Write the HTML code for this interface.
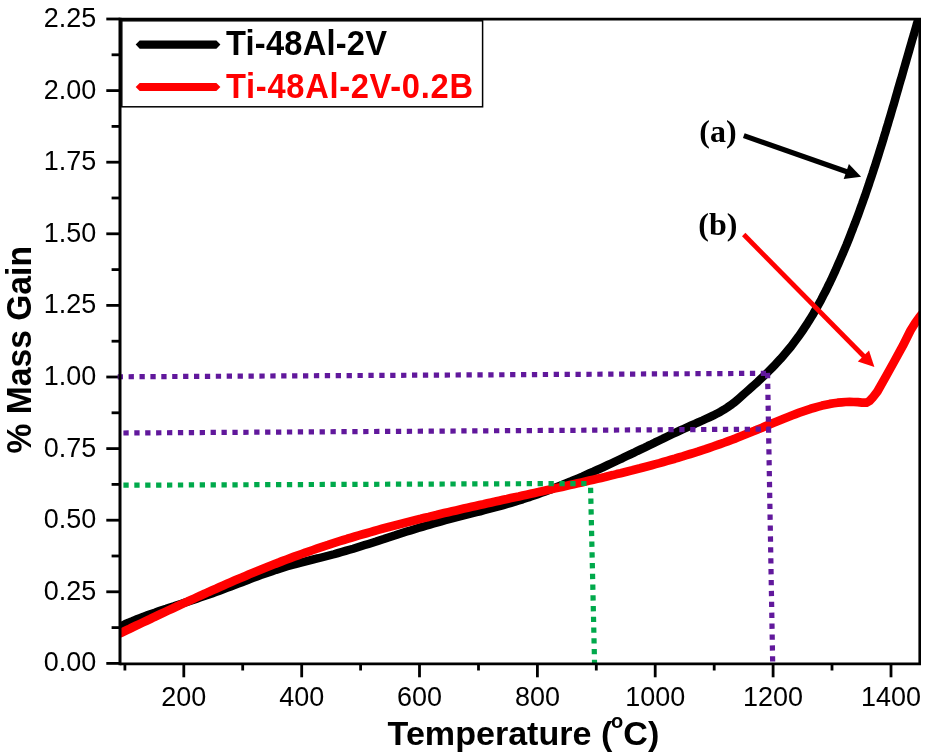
<!DOCTYPE html>
<html lang="en"><head><meta charset="utf-8"><title>Mass gain vs temperature</title>
<style>
html,body{margin:0;padding:0;background:#fff;}
body{width:925px;height:754px;overflow:hidden;}
svg{display:block;}
.tk{font-family:"Liberation Sans",Arial,sans-serif;font-size:28.4px;fill:#000;}
.lb{font-family:"Liberation Sans",Arial,sans-serif;font-weight:bold;font-size:32.7px;fill:#000;}
.an{font-family:"Liberation Serif","Times New Roman",serif;font-weight:bold;font-size:32px;fill:#000;}
</style></head><body>
<svg width="925" height="754" viewBox="0 0 925 754">
<rect width="925" height="754" fill="#fff"/>
<defs><clipPath id="plot"><rect x="120.0" y="19.1" width="799.7" height="644.6999999999999"/></clipPath></defs>
<g stroke="#000" stroke-width="2.8" fill="none">
<line x1="106.3" y1="663.4" x2="120.0" y2="663.4"/>
<line x1="106.3" y1="591.8" x2="120.0" y2="591.8"/>
<line x1="106.3" y1="520.2" x2="120.0" y2="520.2"/>
<line x1="106.3" y1="448.6" x2="120.0" y2="448.6"/>
<line x1="106.3" y1="377.0" x2="120.0" y2="377.0"/>
<line x1="106.3" y1="305.4" x2="120.0" y2="305.4"/>
<line x1="106.3" y1="233.8" x2="120.0" y2="233.8"/>
<line x1="106.3" y1="162.2" x2="120.0" y2="162.2"/>
<line x1="106.3" y1="90.6" x2="120.0" y2="90.6"/>
<line x1="106.3" y1="19.0" x2="120.0" y2="19.0"/>
<line x1="111.6" y1="627.6" x2="120.0" y2="627.6"/>
<line x1="111.6" y1="556.0" x2="120.0" y2="556.0"/>
<line x1="111.6" y1="484.4" x2="120.0" y2="484.4"/>
<line x1="111.6" y1="412.8" x2="120.0" y2="412.8"/>
<line x1="111.6" y1="341.2" x2="120.0" y2="341.2"/>
<line x1="111.6" y1="269.6" x2="120.0" y2="269.6"/>
<line x1="111.6" y1="198.0" x2="120.0" y2="198.0"/>
<line x1="111.6" y1="126.4" x2="120.0" y2="126.4"/>
<line x1="111.6" y1="54.8" x2="120.0" y2="54.8"/>
<line x1="183.8" y1="663.8" x2="183.8" y2="677.3"/>
<line x1="301.7" y1="663.8" x2="301.7" y2="677.3"/>
<line x1="419.5" y1="663.8" x2="419.5" y2="677.3"/>
<line x1="537.4" y1="663.8" x2="537.4" y2="677.3"/>
<line x1="655.2" y1="663.8" x2="655.2" y2="677.3"/>
<line x1="773.1" y1="663.8" x2="773.1" y2="677.3"/>
<line x1="891.0" y1="663.8" x2="891.0" y2="677.3"/>
<line x1="124.9" y1="663.8" x2="124.9" y2="670.5"/>
<line x1="242.7" y1="663.8" x2="242.7" y2="670.5"/>
<line x1="360.6" y1="663.8" x2="360.6" y2="670.5"/>
<line x1="478.5" y1="663.8" x2="478.5" y2="670.5"/>
<line x1="596.3" y1="663.8" x2="596.3" y2="670.5"/>
<line x1="714.2" y1="663.8" x2="714.2" y2="670.5"/>
<line x1="832.0" y1="663.8" x2="832.0" y2="670.5"/>
</g>
<g clip-path="url(#plot)">
<polyline points="114.1,629.4 117.7,627.6 121.3,625.9 125.0,624.2 128.7,622.6 132.4,621.1 136.1,619.5 139.8,618.1 143.6,616.6 147.3,615.3 151.1,613.9 154.9,612.6 158.7,611.2 162.4,609.9 166.2,608.7 170.0,607.4 173.9,606.2 177.7,604.9 181.5,603.7 185.3,602.4 189.1,601.2 192.9,600.0 196.7,598.7 200.5,597.4 204.3,596.1 208.1,594.8 211.9,593.5 215.6,592.1 219.4,590.7 223.2,589.3 226.9,587.9 230.7,586.5 234.4,585.1 238.2,583.6 241.9,582.2 245.7,580.8 249.4,579.3 253.2,577.9 256.9,576.5 260.7,575.1 264.5,573.8 268.3,572.5 272.1,571.2 275.9,569.9 279.7,568.7 283.5,567.5 287.3,566.3 291.2,565.2 295.1,564.2 298.9,563.1 302.8,562.1 306.7,561.1 310.6,560.1 314.5,559.1 318.4,558.2 322.3,557.2 326.1,556.2 330.0,555.2 333.9,554.2 337.8,553.1 341.6,552.0 345.5,550.9 349.4,549.8 353.2,548.7 357.0,547.5 360.9,546.3 364.7,545.1 368.5,543.9 372.4,542.7 376.2,541.5 380.0,540.2 383.8,539.0 387.6,537.7 391.5,536.5 395.3,535.3 399.1,534.0 402.9,532.8 406.7,531.6 410.6,530.4 414.4,529.2 418.2,528.0 422.1,526.9 425.9,525.7 429.8,524.6 433.6,523.5 437.5,522.4 441.3,521.4 445.2,520.3 449.1,519.3 453.0,518.3 456.8,517.3 460.7,516.3 464.6,515.3 468.5,514.3 472.4,513.3 476.3,512.3 480.1,511.4 484.0,510.3 487.9,509.3 491.8,508.3 495.6,507.3 499.5,506.2 503.3,505.1 507.2,504.0 511.0,502.9 514.9,501.8 518.7,500.6 522.5,499.4 526.3,498.1 530.1,496.9 533.9,495.6 537.7,494.2 541.4,492.9 545.2,491.5 549.0,490.1 552.7,488.7 556.4,487.2 560.2,485.7 563.9,484.2 567.6,482.7 571.3,481.2 575.0,479.6 578.7,478.1 582.4,476.5 586.1,474.8 589.7,473.2 593.4,471.6 597.1,469.9 600.7,468.3 604.4,466.6 608.0,464.9 611.7,463.2 615.3,461.5 619.0,459.8 622.6,458.1 626.2,456.3 629.8,454.6 633.5,452.9 637.1,451.1 640.7,449.4 644.3,447.7 647.9,445.9 651.5,444.2 655.1,442.4 658.7,440.7 662.3,439.0 665.9,437.2 669.5,435.5 673.1,433.8 676.7,432.1 680.3,430.4 684.0,428.7 687.6,427.1 691.3,425.4 695.0,423.8 698.7,422.1 702.4,420.5 706.1,418.8 709.8,417.1 713.4,415.4 717.0,413.6 720.5,411.7 723.9,409.7 727.3,407.5 730.5,405.3 733.7,402.9 736.7,400.4 739.7,397.8 742.7,395.2 745.7,392.5 748.7,389.9 751.7,387.2 754.7,384.5 757.7,381.8 760.6,379.0 763.6,376.2 766.5,373.4 769.3,370.6 772.2,367.7 775.0,364.8 777.7,361.9 780.5,358.9 783.1,355.9 785.8,352.8 788.3,349.8 790.9,346.7 793.3,343.5 795.7,340.3 798.1,337.1 800.4,333.8 802.7,330.5 804.9,327.2 807.1,323.9 809.2,320.5 811.3,317.1 813.4,313.7 815.4,310.2 817.3,306.7 819.3,303.2 821.2,299.7 823.0,296.1 824.9,292.6 826.7,289.0 828.4,285.4 830.2,281.8 831.9,278.2 833.6,274.5 835.3,270.9 836.9,267.2 838.5,263.5 840.1,259.9 841.7,256.2 843.3,252.5 844.8,248.8 846.4,245.1 847.9,241.4 849.4,237.6 850.8,233.9 852.3,230.2 853.7,226.4 855.2,222.7 856.6,218.9 858.0,215.2 859.4,211.4 860.7,207.7 862.1,203.9 863.4,200.1 864.8,196.3 866.1,192.5 867.4,188.7 868.7,184.9 869.9,181.1 871.2,177.3 872.5,173.5 873.7,169.7 875.0,165.9 876.2,162.1 877.4,158.2 878.6,154.4 879.8,150.6 881.0,146.8 882.2,142.9 883.4,139.1 884.5,135.2 885.7,131.4 886.8,127.5 888.0,123.7 889.1,119.9 890.3,116.0 891.4,112.2 892.5,108.3 893.7,104.4 894.8,100.6 895.9,96.7 897.0,92.9 898.1,89.0 899.2,85.2 900.3,81.3 901.5,77.4 902.6,73.6 903.7,69.7 904.8,65.9 905.9,62.0 907.0,58.2 908.1,54.3 909.2,50.5 910.3,46.6 911.4,42.8 912.5,38.9 913.7,35.1 914.8,31.2 915.9,27.4 917.0,23.5 918.2,19.7 919.3,15.9 920.4,12.0" fill="none" stroke="#000" stroke-width="8.4" stroke-linejoin="round" stroke-linecap="round"/>
<polyline points="114.1,636.1 117.7,634.4 121.3,632.7 124.9,631.0 128.6,629.3 132.2,627.5 135.8,625.8 139.4,624.1 143.0,622.4 146.6,620.7 150.3,619.0 153.9,617.2 157.5,615.5 161.2,613.8 164.8,612.1 168.4,610.4 172.1,608.7 175.7,607.0 179.4,605.3 183.0,603.6 186.7,601.9 190.3,600.3 194.0,598.6 197.6,596.9 201.3,595.2 205.0,593.6 208.6,591.9 212.3,590.3 216.0,588.7 219.7,587.0 223.3,585.4 227.0,583.8 230.7,582.2 234.4,580.6 238.1,579.0 241.8,577.5 245.5,575.9 249.2,574.3 253.0,572.8 256.7,571.3 260.4,569.8 264.1,568.3 267.8,566.8 271.6,565.3 275.3,563.8 279.1,562.4 282.8,560.9 286.6,559.5 290.3,558.1 294.1,556.7 297.9,555.3 301.6,554.0 305.4,552.6 309.2,551.3 313.0,550.0 316.8,548.7 320.6,547.4 324.4,546.1 328.2,544.9 332.0,543.6 335.8,542.4 339.7,541.2 343.5,540.0 347.3,538.8 351.1,537.7 355.0,536.5 358.8,535.4 362.7,534.3 366.5,533.2 370.4,532.1 374.2,531.0 378.1,529.9 382.0,528.8 385.8,527.8 389.7,526.7 393.6,525.7 397.5,524.7 401.4,523.7 405.2,522.7 409.1,521.7 413.0,520.7 416.9,519.7 420.8,518.8 424.7,517.8 428.6,516.9 432.5,515.9 436.4,515.0 440.3,514.0 444.2,513.1 448.2,512.2 452.1,511.3 456.0,510.4 459.9,509.5 463.8,508.6 467.7,507.7 471.7,506.8 475.6,505.9 479.5,505.0 483.4,504.2 487.3,503.3 491.3,502.4 495.2,501.6 499.1,500.7 503.1,499.8 507.0,499.0 510.9,498.1 514.8,497.2 518.8,496.4 522.7,495.5 526.6,494.7 530.6,493.8 534.5,492.9 538.4,492.1 542.3,491.2 546.3,490.3 550.2,489.5 554.1,488.6 558.0,487.7 562.0,486.9 565.9,486.0 569.8,485.1 573.7,484.2 577.6,483.3 581.6,482.4 585.5,481.5 589.4,480.6 593.3,479.7 597.2,478.8 601.1,477.9 605.0,477.0 608.9,476.0 612.8,475.1 616.7,474.1 620.6,473.2 624.5,472.2 628.4,471.2 632.3,470.3 636.2,469.3 640.1,468.3 644.0,467.2 647.9,466.2 651.7,465.2 655.6,464.1 659.5,463.1 663.3,462.0 667.2,460.9 671.0,459.8 674.9,458.7 678.7,457.5 682.6,456.4 686.4,455.2 690.2,454.0 694.1,452.8 697.9,451.6 701.7,450.3 705.5,449.1 709.3,447.8 713.1,446.5 716.9,445.2 720.7,443.8 724.5,442.5 728.3,441.1 732.0,439.7 735.8,438.3 739.5,436.8 743.3,435.3 747.0,433.8 750.8,432.3 754.5,430.8 758.2,429.2 762.0,427.7 765.7,426.1 769.4,424.6 773.1,423.0 776.9,421.5 780.6,420.0 784.3,418.5 788.1,417.0 791.8,415.5 795.5,414.1 799.3,412.7 803.1,411.4 806.8,410.1 810.6,408.8 814.4,407.7 818.3,406.6 822.1,405.6 826.0,404.7 829.8,403.9 833.8,403.3 837.7,402.7 841.6,402.3 845.6,402.0 849.6,401.9 853.7,402.0 857.8,402.2 861.9,402.6 866.5,402.6 869.5,401.0 872.5,397.8 877.4,391.5 886.1,376.2 894.5,361.0 902.9,345.7 910.5,330.5 915.0,323.3 919.5,317.0 926.0,309.0" fill="none" stroke="#ff0000" stroke-width="8.7" stroke-linejoin="round" stroke-linecap="round"/>
</g>
<g fill="none" stroke-width="5.2" stroke-dasharray="5.3 5.6">
<path d="M117.7,376.8 L770.6,373.3" stroke="#61189c"/>
<path d="M123.4,433 L771,429.1" stroke="#61189c"/>
<path d="M767.56,372.9 L772.7,665" stroke="#61189c"/>
<path d="M123.4,485.2 L587.5,483.5" stroke="#00a94b"/>
<path d="M590.6,487.8 L594.55,663" stroke="#00a94b" stroke-dasharray="5.3 5.45"/>
</g>
<g stroke="#000" fill="none">
<line x1="120.0" y1="17.700000000000003" x2="120.0" y2="665.1999999999999" stroke-width="3"/>
<line x1="120.0" y1="663.8" x2="921.0" y2="663.8" stroke-width="2.8"/>
<line x1="120.0" y1="19.1" x2="921.0" y2="19.1" stroke-width="2.8"/>
<line x1="919.7" y1="19.1" x2="919.7" y2="663.8" stroke-width="2.6"/>
</g>
<rect x="121.8" y="20.8" width="360.8" height="86" fill="#fff" stroke="#000" stroke-width="1.5"/>
<polygon points="135.7,44.6 139.7,40.5 216.4,40.5 220.4,44.6 216.4,48.7 139.7,48.7" fill="#000"/>
<polygon points="135.7,87 139.7,82.9 216.4,82.9 220.4,87 216.4,91.1 139.7,91.1" fill="#ff0000"/>
<text class="lb" style="font-size:34.2px" transform="translate(226,55.4) scale(0.955,1)" textLength="168.6" lengthAdjust="spacing">Ti-48Al-2V</text>
<text class="lb" style="font-size:34.2px;fill:#ff0000" transform="translate(226,97.6) scale(0.955,1)" textLength="258.6" lengthAdjust="spacing">Ti-48Al-2V-0.2B</text>
<text class="tk" transform="translate(96.3,671.4) scale(0.95,1)" text-anchor="end">0.00</text>
<text class="tk" transform="translate(96.3,599.8) scale(0.95,1)" text-anchor="end">0.25</text>
<text class="tk" transform="translate(96.3,528.2) scale(0.95,1)" text-anchor="end">0.50</text>
<text class="tk" transform="translate(96.3,456.6) scale(0.95,1)" text-anchor="end">0.75</text>
<text class="tk" transform="translate(96.3,385.0) scale(0.95,1)" text-anchor="end">1.00</text>
<text class="tk" transform="translate(96.3,313.4) scale(0.95,1)" text-anchor="end">1.25</text>
<text class="tk" transform="translate(96.3,241.8) scale(0.95,1)" text-anchor="end">1.50</text>
<text class="tk" transform="translate(96.3,170.2) scale(0.95,1)" text-anchor="end">1.75</text>
<text class="tk" transform="translate(96.3,98.6) scale(0.95,1)" text-anchor="end">2.00</text>
<text class="tk" transform="translate(96.3,27.0) scale(0.95,1)" text-anchor="end">2.25</text>
<text class="tk" transform="translate(183.8,706.4) scale(0.95,1)" text-anchor="middle">200</text>
<text class="tk" transform="translate(301.7,706.4) scale(0.95,1)" text-anchor="middle">400</text>
<text class="tk" transform="translate(419.5,706.4) scale(0.95,1)" text-anchor="middle">600</text>
<text class="tk" transform="translate(537.4,706.4) scale(0.95,1)" text-anchor="middle">800</text>
<text class="tk" transform="translate(655.2,706.4) scale(0.95,1)" text-anchor="middle">1000</text>
<text class="tk" transform="translate(773.1,706.4) scale(0.95,1)" text-anchor="middle">1200</text>
<text class="tk" transform="translate(891.0,706.4) scale(0.95,1)" text-anchor="middle">1400</text>
<text class="lb" style="font-size:34.8px" transform="translate(31.2,453.4) rotate(-90) scale(0.966,1)">% Mass Gain</text>
<text class="lb" style="font-size:34.1px" x="387.6" y="745.2">Temperature (<tspan style="font-size:20px" x="611.1" y="727.9">o</tspan><tspan x="623.3" y="745.2">C)</tspan></text>
<text class="an" x="699.3" y="141.6">(a)</text>
<text class="an" x="698.3" y="234.6">(b)</text>
<line x1="743.8" y1="135.6" x2="848.2" y2="172.2" stroke="#000" stroke-width="5.2"/><polygon points="861.1,176.7 843.7,179.0 848.9,164.1" fill="#000"/>
<line x1="743.7" y1="234.5" x2="864.8" y2="357.3" stroke="#ff0000" stroke-width="4.8"/><polygon points="874.4,367.1 857.8,361.5 869.0,350.4" fill="#ff0000"/>
</svg></body></html>
